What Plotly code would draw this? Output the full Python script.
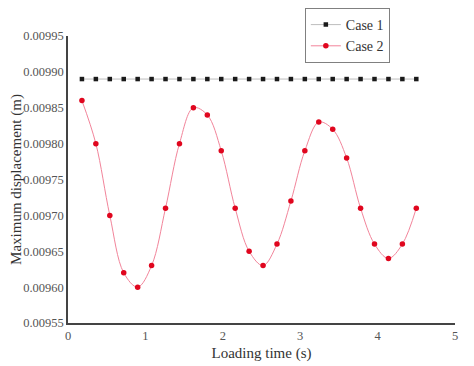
import plotly.graph_objects as go

time_s = [0.18, 0.36, 0.54, 0.72, 0.90, 1.08, 1.26, 1.44, 1.62, 1.80, 1.98, 2.16, 2.34,
          2.52, 2.70, 2.88, 3.06, 3.24, 3.42, 3.60, 3.78, 3.96, 4.14, 4.32, 4.50]
case1 = [0.00989] * 25
case2 = [0.00986, 0.00980, 0.00970, 0.00962, 0.00960, 0.00963, 0.00971, 0.00980, 0.00985,
         0.00984, 0.00979, 0.00971, 0.00965, 0.00963, 0.00966, 0.00972, 0.00979, 0.00983,
         0.00982, 0.00978, 0.00971, 0.00966, 0.00964, 0.00966, 0.00971]
x_ticks = [0, 1, 2, 3, 4, 5]
y_ticks = [0.00955, 0.00960, 0.00965, 0.00970, 0.00975, 0.00980, 0.00985, 0.00990, 0.00995]

font = "Liberation Serif, Times New Roman, serif"

fig = go.Figure()
fig.add_trace(go.Scatter(
    x=time_s, y=case1, name="Case 1", mode="lines+markers",
    line=dict(color="#bdbdbd", width=1),
    marker=dict(symbol="square", size=4.5, color="#1a1a1a"),
))
fig.add_trace(go.Scatter(
    x=time_s, y=case2, name="Case 2", mode="lines+markers",
    line=dict(color="#f2849a", width=1, shape="spline", smoothing=1.0),
    marker=dict(symbol="circle", size=5.5, color="#e0061e"),
))

fig.update_layout(
    width=466, height=358,
    margin=dict(l=60, r=19, t=28, b=43, autoexpand=False),
    paper_bgcolor="white", plot_bgcolor="white",
    font=dict(family=font, color="#444444", size=12),
    showlegend=True,
    legend=dict(xref="container", yref="container", x=0.637, y=1.0,
                xanchor="left", yanchor="top",
                bordercolor="#808080", borderwidth=1, bgcolor="white",
                font=dict(family=font, size=14, color="#333333"),
                tracegroupgap=0, itemwidth=30),
    xaxis=dict(range=[0, 5], tickvals=x_ticks, showgrid=False, zeroline=False,
               showline=True, linecolor="#444444", linewidth=1.5,
               ticks="", tickfont=dict(size=12.5, color="#555555"),
               title=dict(text="Loading time (s)", font=dict(size=15, color="#333333"), standoff=6)),
    yaxis=dict(range=[0.00955, 0.00995], tickvals=y_ticks, tickformat=".5f",
               showgrid=False, zeroline=False,
               showline=True, linecolor="#444444", linewidth=1.5,
               ticks="", tickfont=dict(size=12.5, color="#555555"),
               title=dict(text="Maximum displacement (m)", font=dict(size=15, color="#333333"), standoff=3)),
)

fig.write_html("out.html")
